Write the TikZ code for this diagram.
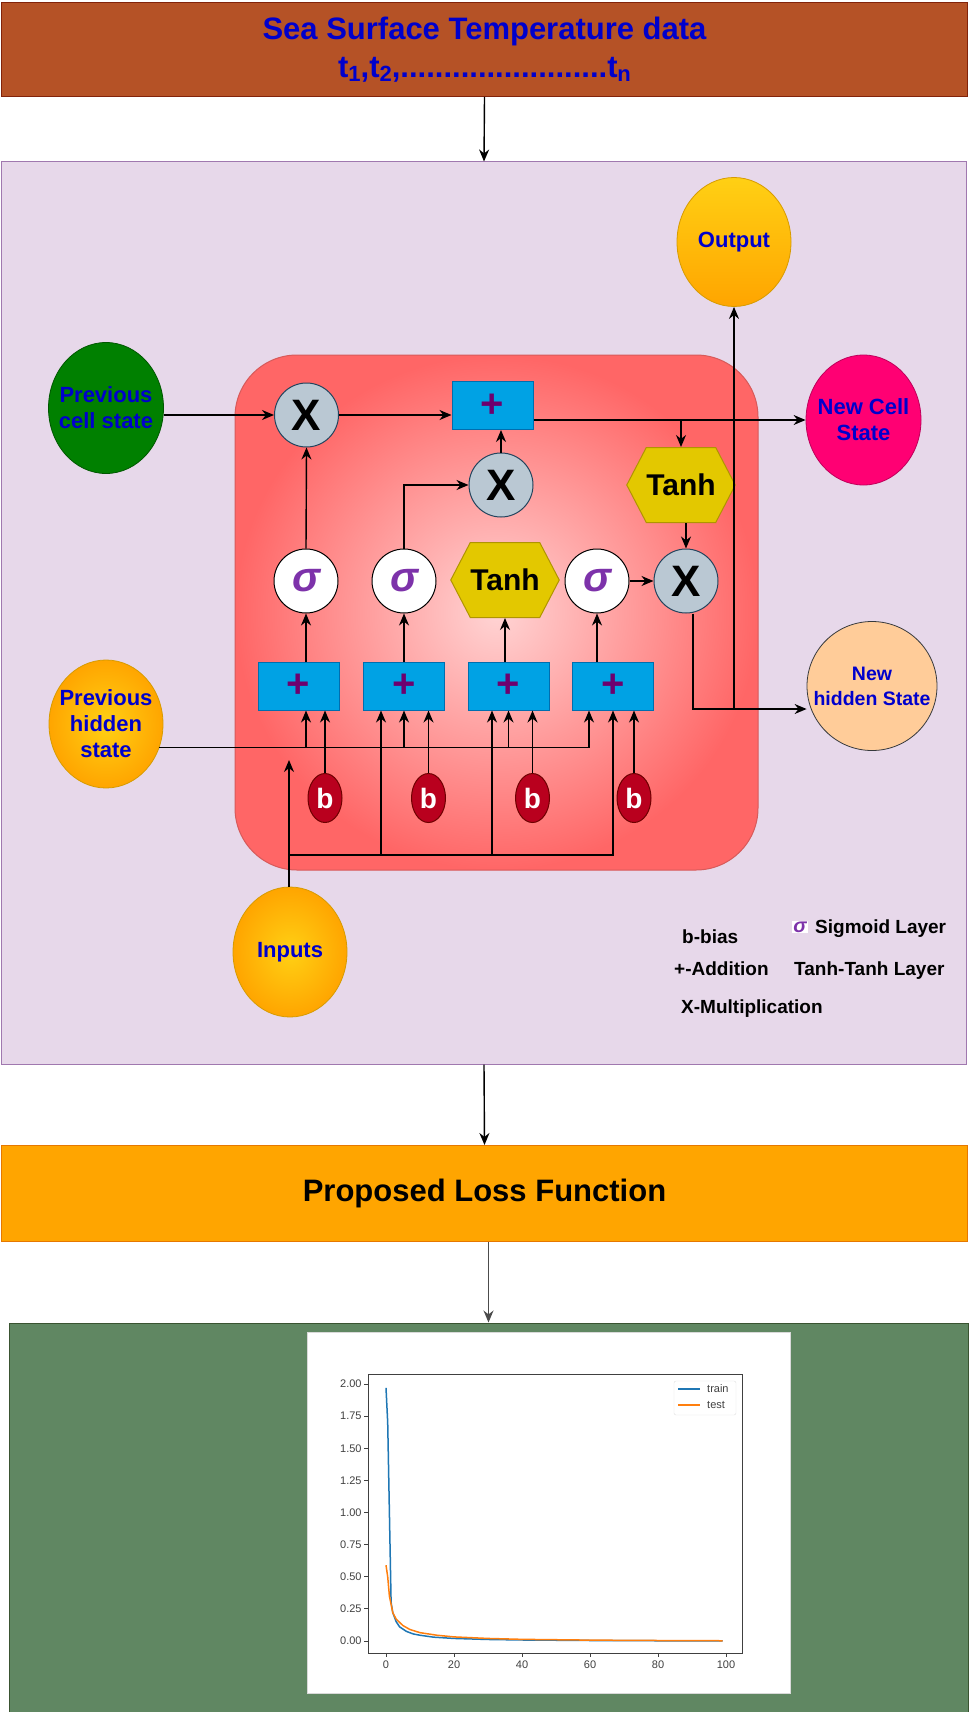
\documentclass[tikz,border=0pt]{standalone}
\usepackage{fontspec}
\setmainfont{Liberation Sans}
\usetikzlibrary{shapes.geometric,shapes.symbols,arrows.meta}
\definecolor{sstfill}{RGB}{181,82,38}
\definecolor{sstdraw}{RGB}{130,35,10}
\definecolor{txtblue}{RGB}{0,0,204}
\definecolor{lstmfill}{RGB}{231,216,234}
\definecolor{lstmdraw}{RGB}{160,120,175}
\definecolor{cellin}{RGB}{255,212,212}
\definecolor{cellout}{RGB}{255,102,102}
\definecolor{celldraw}{RGB}{215,90,90}
\definecolor{multfill}{RGB}{186,200,211}
\definecolor{multdraw}{RGB}{35,68,93}
\definecolor{addfill}{RGB}{0,162,228}
\definecolor{adddraw}{RGB}{0,110,175}
\definecolor{plusvio}{RGB}{110,0,110}
\definecolor{sigvio}{RGB}{125,50,170}
\definecolor{tanhfill}{RGB}{227,200,0}
\definecolor{tanhdraw}{RGB}{176,149,0}
\definecolor{biasfill}{RGB}{185,0,30}
\definecolor{biasdraw}{RGB}{111,0,0}
\definecolor{prevgreen}{RGB}{0,128,0}
\definecolor{prevgreendraw}{RGB}{0,87,0}
\definecolor{goldin}{RGB}{255,208,20}
\definecolor{goldout}{RGB}{255,165,0}
\definecolor{golddraw}{RGB}{215,155,0}
\definecolor{newcell}{RGB}{255,0,115}
\definecolor{newcelldraw}{RGB}{190,0,90}
\definecolor{peach}{RGB}{255,204,153}
\definecolor{peachdraw}{RGB}{54,57,61}
\definecolor{lossfill}{RGB}{255,165,0}
\definecolor{lossdraw}{RGB}{230,120,0}
\definecolor{resfill}{RGB}{96,135,98}
\definecolor{resdraw}{RGB}{58,84,49}
\definecolor{trainblue}{RGB}{31,119,180}
\definecolor{testorange}{RGB}{255,127,14}
\newcommand{\fsz}[2]{\fontsize{#1}{#2}\selectfont}
\newcommand{\lowidx}[1]{\raisebox{-4pt}{\fsz{22}{22}#1}}

\begin{document}
\begin{tikzpicture}
[x=1pt, y=-1pt,
 wire/.style={draw=black, line width=1.4pt},
 wirearr/.style={wire, -{Stealth[length=12pt, width=10pt]}},
 band/.style={rectangle, draw, line width=1pt, inner sep=0pt},
 statenode/.style={ellipse, draw, line width=0.8pt, inner sep=0pt},
 statetxt/.style={align=center, inner sep=0pt, text=txtblue, font=\bfseries\fsz{22}{26}},
 gold/.style={statenode, draw=golddraw, inner color=goldin, outer color=goldout},
 mult/.style={circle, draw=multdraw, fill=multfill, line width=1pt, minimum size=64pt, inner sep=0pt, font=\bfseries\fsz{44}{44}},
 sigma/.style={circle, draw=black, fill=white, line width=1pt, minimum size=64pt, inner sep=0pt, text=sigvio, font=\bfseries\itshape\fsz{42}{42}},
 addbox/.style={rectangle, draw=adddraw, fill=addfill, line width=1pt, minimum width=81pt, minimum height=48pt, inner sep=0pt, text=plusvio, font=\bfseries\fsz{40}{40}},
 tanhbox/.style={signal, signal to=east and west, signal pointer angle=125, draw=tanhdraw, fill=tanhfill, line width=1pt, minimum width=103pt, minimum height=75pt, inner sep=0pt, font=\bfseries\fsz{30}{30}},
 bias/.style={ellipse, draw=biasdraw, fill=biasfill, line width=1pt, minimum width=34pt, minimum height=49pt, inner sep=0pt, text=white, font=\bfseries\fsz{28}{28}},
 legendtxt/.style={anchor=base west, inner sep=0pt, font=\bfseries\fsz{19}{19}},
 ticklbl/.style={inner sep=0pt, text=black!75, font=\fsz{11}{11}}]
\useasboundingbox (0,0) rectangle (969,1712);

% frames
\node[band, draw=sstdraw, fill=sstfill, minimum width=966pt, minimum height=94pt, align=center, text=txtblue, font=\bfseries\fsz{31}{42}] (sst) at (484.5,49.5) {\raisebox{-4pt}{Sea Surface Temperature data}\\t\lowidx{1},t\lowidx{2},........................t\lowidx{n}};
\node[band, draw=lstmdraw, fill=lstmfill, minimum width=965pt, minimum height=902pt] (lstm) at (484,613) {};
\node[band, draw=lossdraw, fill=lossfill, minimum width=966pt, minimum height=96pt, font=\bfseries\fsz{31}{31}] (loss) at (484.5,1193.5) {Proposed Loss Function};
\node[band, draw=resdraw, fill=resfill, minimum width=959pt, minimum height=390pt] (result) at (488.5,1518) {};
\draw[wirearr] (sst.south) -- (lstm.north);
\draw[wirearr] (lstm.south) -- (loss.north);
\draw[wirearr, draw=black!70] (result.north |- loss.south) -- (result.north);

% lstm cell
\node[rectangle, rounded corners=62pt, draw=celldraw, line width=1pt, inner color=cellin, outer color=cellout, minimum width=523pt, minimum height=515pt] (cell) at (496.5,612.5) {};

\node[statenode, draw=prevgreendraw, fill=prevgreen, minimum width=115pt, minimum height=131pt, label={[statetxt]center:{Previous\\cell state}}] (prevc) at (106,408) {};
\node[gold, minimum width=114pt, minimum height=128pt, label={[statetxt]center:{Previous\\hidden\\state}}] (prevh) at (106,724) {};
\node[gold, minimum width=114pt, minimum height=130pt, label={[statetxt]center:Inputs}] (inputs) at (290,952) {};
\node[gold, top color=goldin, bottom color=goldout, minimum width=114pt, minimum height=129pt, label={[statetxt]center:Output}] (output) at (734,242) {};
\node[statenode, draw=newcelldraw, fill=newcell, minimum width=115pt, minimum height=130pt, label={[statetxt]center:{New Cell\\State}}] (newc) at (863.5,420) {};
\node[statenode, draw=peachdraw, fill=peach, minimum width=130pt, minimum height=129pt, label={[statetxt, font=\bfseries\fsz{19.5}{25}]center:{New\\hidden State}}] (newh) at (872,686) {};

\node[mult] (fgx) at (306.5,415) {X};
\node[addbox] (celladd) at (492.5,405.5) {+};
\node[mult] (igx) at (501,485) {X};
\node[tanhbox] (celltanh) at (681,485) {Tanh};
\node[mult] (ogx) at (686,581) {X};
\node[sigma] (fsig) at (306,581) {σ};
\node[sigma] (isig) at (404,581) {σ};
\node[tanhbox] (gtanh) at (505,580) {Tanh};
\node[sigma] (osig) at (597,581) {σ};
\node[addbox] (fadd) at (298.5,686) {+};
\node[addbox] (iadd) at (404,686) {+};
\node[addbox] (gadd) at (508.5,686) {+};
\node[addbox] (oadd) at (613,686) {+};
\node[bias] (fb) at (325,798) {b};
\node[bias] (ib) at (428.5,798) {b};
\node[bias] (gb) at (532.5,798) {b};
\node[bias] (ob) at (634,798) {b};

% cell state
\draw[wirearr] (prevc.east |- fgx.west) -- (fgx.west);
\draw[wirearr] (fgx.east) -- (fgx.east -| celladd.west);
\draw[wirearr] (celladd.east |- newc.west) -- (newc.west);
\draw[wirearr] (celltanh.north |- newc.west) -- (celltanh.north);
\draw[wirearr] (ogx.north |- celltanh.south) -- (ogx.north);
\draw[wirearr] (igx.north) -- (igx.north |- celladd.south);
\draw[wirearr] (fsig.north) -- (fgx.south);
\draw[wirearr] (isig.north) |- (igx.west);
\draw[wirearr] (osig.east) -- (ogx.west);

% hidden state out
\coordinate (hout) at (733,709);
\coordinate (hdown) at ([xshift=7pt]ogx.south);
\draw[wirearr] (hdown) |- (hout) -- (hout -| newh.west);
\draw[wirearr] (output.south |- hout) -- (output.south);

% gates
\draw[wirearr] (fsig.south |- fadd.north) -- (fsig.south);
\draw[wirearr] (isig.south |- iadd.north) -- (isig.south);
\draw[wirearr] (gtanh.south |- gadd.north) -- (gtanh.south);
\draw[wirearr] (osig.south |- oadd.north) -- (osig.south);
\draw[wirearr] (fb.north) -- (fb.north |- fadd.south);
\draw[wirearr] (ib.north) -- (ib.north |- iadd.south);
\draw[wirearr] (gb.north) -- (gb.north |- gadd.south);
\draw[wirearr] (ob.north) -- (ob.north |- oadd.south);

% previous hidden state feed
\coordinate (hd1) at ([xshift=7.5pt]fadd.south);
\coordinate (hd2) at (iadd.south);
\coordinate (hd3) at (gadd.south);
\coordinate (hd4) at ([xshift=-24pt]oadd.south);
\draw[wirearr] (prevh.-24) -| (hd4);
\draw[wirearr] (prevh.-24 -| hd1) -- (hd1);
\draw[wirearr] (prevh.-24 -| hd2) -- (hd2);
\draw[wirearr] (prevh.-24 -| hd3) -- (hd3);

% input feed
\coordinate (ibus) at (289,855);
\coordinate (itip) at (289,760);
\coordinate (in2) at ([xshift=-23pt]iadd.south);
\coordinate (in3) at ([xshift=-16.5pt]gadd.south);
\draw[wirearr] (inputs.north -| itip) -- (itip);
\draw[wirearr] (ibus) -| (oadd.south);
\draw[wirearr] (ibus -| in2) -- (in2);
\draw[wirearr] (ibus -| in3) -- (in3);

% legend
\node[legendtxt] (kb) at (682,943) {b-bias};
\node[fill=white, inner sep=1pt, text=sigvio, font=\bfseries\itshape\fsz{20}{20}] (ksig) at (800,927) {σ};
\node[legendtxt] (ksigt) at (815,933) {Sigmoid Layer};
\node[legendtxt] (kadd) at (674,975) {+-Addition};
\node[legendtxt] (ktanh) at (794,975) {Tanh-Tanh Layer};
\node[legendtxt] (kmul) at (681,1013) {X-Multiplication};

% loss plot
\draw[draw=black!15, fill=white] (307,1332) rectangle (790,1693);
\begin{scope}[shift={(386,1641)}, x=3.4pt, y=128.5pt]
\foreach \v/\lbl in {0/0.00,0.25/0.25,0.5/0.50,0.75/0.75,1/1.00,1.25/1.25,1.5/1.50,1.75/1.75,2/2.00}
  \draw[black!75, line width=0.8pt] (-5.3,\v) -- ++(-4pt,0) node[ticklbl, anchor=east, xshift=-2pt] {\lbl};
\foreach \t in {0,20,40,60,80,100}
  \draw[black!75, line width=0.8pt] (\t,-0.093) -- ++(0,-4pt) node[ticklbl, anchor=north, yshift=-3pt] {\t};
\draw[trainblue, line width=1.5pt, line join=round] plot coordinates {(0,1.97) (0.5,1.7) (1,1.0) (1.5,0.3) (2,0.22) (3,0.15) (4,0.11) (6,0.075) (8,0.055) (10,0.045) (14,0.03) (20,0.02) (30,0.012) (40,0.008) (60,0.004) (80,0.002) (99,0.001)};
\draw[testorange, line width=1.5pt, line join=round] plot coordinates {(0,0.59) (0.5,0.5) (1,0.35) (2,0.22) (3,0.17) (5,0.12) (7,0.09) (10,0.065) (15,0.045) (20,0.032) (30,0.02) (40,0.013) (60,0.007) (80,0.004) (99,0.002)};
\draw[black!75, line width=0.9pt] (-5.3,-0.093) rectangle (104.7,2.078);
\end{scope}
\draw[black!12, fill=white, rounded corners=2pt] (674,1381) rectangle (736,1415);
\draw[trainblue, line width=1.5pt] (678,1389) -- (700,1389);
\draw[testorange, line width=1.5pt] (678,1405) -- (700,1405);
\node[ticklbl, anchor=west] (ktrain) at (707,1389) {train};
\node[ticklbl, anchor=west] (ktest) at (707,1405) {test};
\end{tikzpicture}
\end{document}
